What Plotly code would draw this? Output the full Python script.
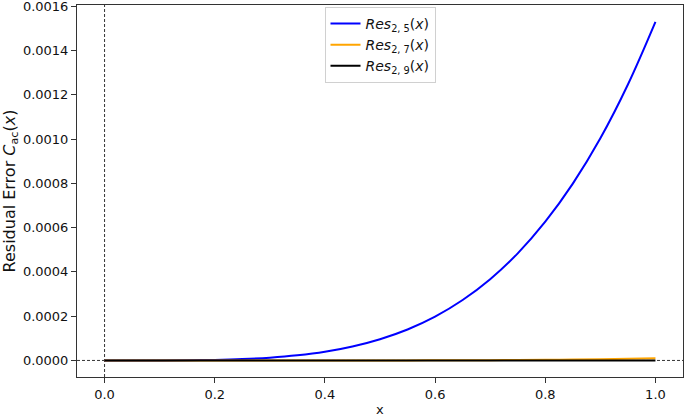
import plotly.graph_objects as go

x_vals = [0.0, 0.05, 0.1, 0.15, 0.2, 0.25, 0.3, 0.35, 0.4, 0.45, 0.5,
          0.55, 0.6, 0.65, 0.7, 0.75, 0.8, 0.85, 0.9, 0.95, 1.0]
res_2_5 = [0.0, 0.00000001, 0.00000015, 0.0000008, 0.0000025, 0.000006, 0.0000124,
           0.000023, 0.000039, 0.000063, 0.000096, 0.00014, 0.000198, 0.000273,
           0.000367, 0.000484, 0.000627, 0.000799, 0.001004, 0.001247, 0.00153]
res_2_7 = [0.0, 0.0, 0.0, 0.0, 0.0, 0.0, 0.0, 0.00000001, 0.00000004, 0.0000001,
           0.0000002, 0.0000003, 0.0000005, 0.0000008, 0.0000012, 0.0000018,
           0.0000027, 0.0000039, 0.0000055, 0.0000075, 0.00001]
res_2_9 = [0.0] * 18 + [0.00000005, 0.0000001, 0.00000015]

names = ["<i>Res</i><sub>2, 5</sub>(<i>x</i>)",
         "<i>Res</i><sub>2, 7</sub>(<i>x</i>)",
         "<i>Res</i><sub>2, 9</sub>(<i>x</i>)"]
colors = ["#0000ff", "#ffa500", "#000000"]

fig = go.Figure()
for ys, nm, c in zip([res_2_5, res_2_7, res_2_9], names, colors):
    fig.add_trace(go.Scatter(x=x_vals, y=ys, mode="lines", name=nm,
                             line=dict(color=c, width=2, shape="spline")))

fig.add_hline(y=0, line=dict(color="black", width=0.8, dash="3px,2px"), layer="below")
fig.add_vline(x=0, line=dict(color="black", width=0.8, dash="3px,2px"), layer="below")

axis_common = dict(showline=True, linecolor="#333333", linewidth=1, mirror=True,
                   ticks="outside", ticklen=5, tickcolor="#333333", showgrid=False,
                   zeroline=False, automargin=False, ticklabeloverflow="allow",
                   tickfont=dict(family="DejaVu Sans", size=13, color="#111111"))

fig.update_layout(
    width=685, height=417,
    margin=dict(l=77, r=2, t=5, b=40),
    plot_bgcolor="white", paper_bgcolor="white",
    font=dict(family="DejaVu Sans", size=13, color="#111111"),
    xaxis=dict(range=[-0.05, 1.05], tickvals=[0.0, 0.2, 0.4, 0.6, 0.8, 1.0],
               ticktext=["0.0", "0.2", "0.4", "0.6", "0.8", "1.0"],
               **axis_common),
    yaxis=dict(range=[-0.0000748, 0.0016063], tickformat=".4f",
               tickvals=[0, 0.0002, 0.0004, 0.0006, 0.0008, 0.0010, 0.0012, 0.0014, 0.0016],
               title=dict(text="Residual Error <i>C</i><sub>ac</sub>(<i>x</i>)", standoff=8),
               **axis_common),
    legend=dict(x=0.5, xanchor="center", y=0.995, yanchor="top",
                bgcolor="rgba(255,255,255,0.8)", bordercolor="#d0d0d0", borderwidth=1,
                font=dict(family="DejaVu Sans", size=14)),
    showlegend=True,
    annotations=[dict(text="x", xref="paper", yref="paper", x=0.5, y=0,
                      xanchor="center", yanchor="middle", yshift=-32, showarrow=False,
                      font=dict(family="DejaVu Sans", size=13, color="#111111"))],
)

fig.write_html("out.html")
